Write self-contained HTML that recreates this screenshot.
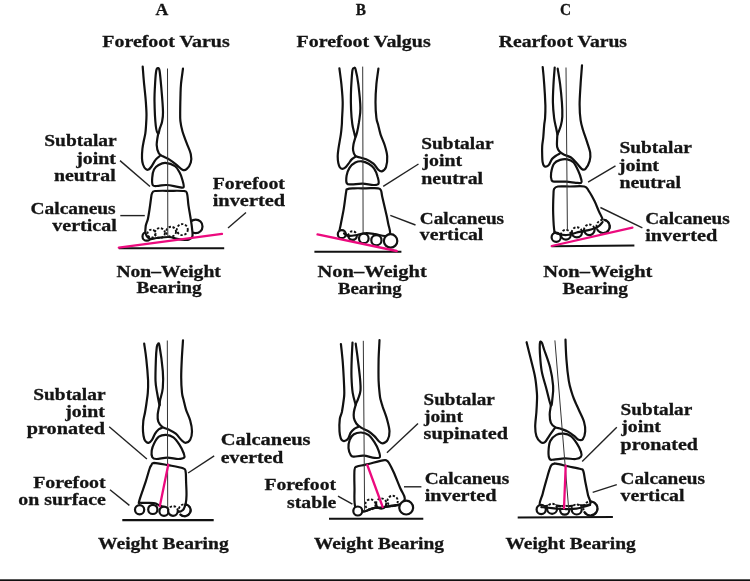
<!DOCTYPE html>
<html><head><meta charset="utf-8">
<style>
html,body{margin:0;padding:0;background:#fff;}
body{width:750px;height:581px;overflow:hidden;position:relative;}
svg{position:absolute;left:0;top:0;will-change:transform;}
.t{font-family:"Liberation Serif",serif;font-weight:bold;font-size:17.2px;fill:#141414;stroke:#141414;stroke-width:0.3;}
.b{fill:none;stroke:#111;stroke-width:2.2;stroke-linecap:round;stroke-linejoin:round;}
.wf{fill:#fff;stroke:none;}
.w{fill:#fff;stroke:#111;stroke-width:2.2;stroke-linecap:round;stroke-linejoin:round;}
.c{fill:none;stroke:#333;stroke-width:1;}
.d{fill:none;stroke:#111;stroke-width:1.9;stroke-dasharray:2.3 1.7;}
.p{stroke:#ec0a7e;stroke-width:2.3;stroke-linecap:round;fill:none;}
.g{stroke:#111;stroke-width:2.1;}
.l{stroke:#222;stroke-width:1.4;}
</style></head><body>
<svg width="750" height="581" viewBox="0 0 750 581">
<rect x="0" y="579.3" width="750" height="1.7" fill="#111"/>
<!-- A1 -->
<g>
<circle class="w" cx="146.8" cy="236.4" r="4.3"/>
<circle class="w" cx="195.7" cy="226.4" r="6.8"/>
<path class="w" d="M152.0,193.5 C152.6,192.5 152.0,191.4 155.0,191.0 C158.0,190.6 165.2,190.8 170.0,190.8 C174.8,190.8 181.2,190.6 184.0,191.0 C186.8,191.4 186.2,191.1 187.0,193.5 C187.8,195.9 187.9,201.7 188.5,205.6 C189.1,209.5 189.8,213.3 190.4,217.0 C191.0,220.7 191.7,224.8 192.0,228.0 C192.3,231.2 192.9,234.6 192.4,236.5 C191.9,238.4 190.3,238.9 189.0,239.5 C187.7,240.1 186.7,240.0 184.7,239.9 C182.7,239.8 179.8,239.4 177.2,238.9 C174.5,238.4 172.2,237.2 168.8,237.0 C165.4,236.8 159.8,237.7 156.7,238.0 C153.6,238.3 151.9,239.6 150.1,238.9 C148.3,238.2 146.5,236.2 145.8,234.0 C145.1,231.8 145.3,228.6 145.7,226.0 C146.1,223.4 147.3,221.7 148.0,218.4 C148.7,215.1 149.5,209.6 150.0,206.0 C150.5,202.4 150.9,199.1 151.2,197.0 C151.5,194.9 151.4,194.5 152.0,193.5 Z"/>
<path class="b" d="M142.7,66.6 C142.9,68.9 143.3,74.9 143.8,80.7 C144.3,86.5 145.4,95.6 145.8,101.3 C146.2,107.0 146.5,110.9 146.5,115.0 C146.5,119.1 146.2,122.9 146.0,126.0 C145.8,129.1 145.7,131.1 145.3,133.6 C144.9,136.1 144.3,138.2 143.8,140.8 C143.3,143.4 142.7,146.1 142.4,149.0 C142.1,151.9 141.9,155.8 142.0,158.4 C142.1,161.0 142.4,162.8 143.0,164.5 C143.6,166.2 144.6,168.0 145.5,168.8 C146.4,169.7 147.5,170.0 148.5,169.6 C149.5,169.2 150.3,168.2 151.5,166.5 C152.7,164.8 154.3,161.3 155.7,159.6 C157.1,157.8 159.1,156.6 159.8,156.0"/>
<path class="b" d="M158.2,133.6 C157.5,133.2 156.4,131.4 155.8,126.0 C155.2,120.6 154.6,108.6 154.5,101.3 C154.4,94.0 154.9,87.1 155.2,82.0 C155.5,76.9 155.8,72.8 156.3,70.5 C156.8,68.2 157.4,68.1 158.0,68.2 C158.6,68.3 159.0,67.4 159.6,71.0 C160.2,74.6 160.9,83.2 161.5,90.0 C162.1,96.8 162.9,106.7 163.0,112.0 C163.1,117.3 162.5,119.3 162.0,122.0 C161.5,124.7 160.4,126.5 159.8,128.4 C159.2,130.3 158.9,134.0 158.2,133.6 Z"/>
<path class="b" d="M158.2,133.6 C157.9,135.5 156.6,141.7 156.7,145.0 C156.8,148.3 157.8,151.3 158.8,153.2 C159.8,155.1 161.2,155.3 162.9,156.3 C164.6,157.3 166.9,158.0 169.1,159.4 C171.3,160.8 174.1,162.9 176.3,164.6 C178.5,166.3 180.8,169.0 182.5,169.8 C184.2,170.6 185.2,170.4 186.6,169.2 C188.0,168.0 190.1,165.0 190.8,162.5 C191.5,160.0 191.5,157.5 190.8,154.2 C190.1,150.9 188.0,146.7 186.6,142.9 C185.2,139.1 183.5,135.1 182.5,131.5 C181.5,127.9 180.8,124.8 180.4,121.2 C180.0,117.6 180.2,114.4 180.2,110.0 C180.2,105.6 180.4,99.3 180.5,95.0 C180.6,90.7 180.6,88.4 181.0,84.0 C181.4,79.6 182.7,71.1 183.0,68.5"/>
<path class="b" d="M153.0,185.4 C151.9,184.1 152.0,180.5 152.2,177.8 C152.4,175.2 152.9,171.6 154.0,169.5 C155.1,167.4 156.7,166.1 158.6,165.0 C160.5,163.9 162.7,162.6 165.4,162.8 C168.1,163.0 172.7,164.6 175.0,166.2 C177.3,167.8 178.3,170.1 179.5,172.3 C180.7,174.5 181.5,176.7 182.2,179.2 C182.9,181.7 184.3,186.0 183.6,187.3 C182.9,188.6 180.6,187.2 177.8,186.8 C175.0,186.4 170.0,185.2 166.8,185.0 C163.6,184.8 160.9,185.7 158.6,185.8 C156.3,185.9 154.1,186.7 153.0,185.4 Z"/>
<circle class="d" cx="151.5" cy="233.6" r="4.0"/>
<circle class="d" cx="159.9" cy="233.1" r="5.0"/>
<circle class="d" cx="171.1" cy="231.7" r="4.9"/>
<circle class="d" cx="182.3" cy="229.6" r="5.5"/>
<line class="c" x1="167.5" y1="68.5" x2="167.8" y2="237.0"/>
<line class="g" x1="118.8" y1="248.3" x2="224.2" y2="248.3"/>
<line class="p" x1="118.8" y1="247.6" x2="222.0" y2="233.8"/>
<line class="l" x1="120.0" y1="160.6" x2="150.0" y2="186.5"/>
<line class="l" x1="120.3" y1="215.6" x2="144.8" y2="215.6"/>
<line class="l" x1="228.0" y1="228.0" x2="246.0" y2="212.5"/>
</g>

<!-- B1 -->
<g>
<path class="w" d="M347.3,189.2 C348.6,188.5 351.0,188.5 354.1,188.3 C357.2,188.2 362.0,188.3 366.0,188.3 C370.0,188.3 375.7,187.9 378.2,188.3 C380.7,188.7 380.3,189.1 381.0,190.5 C381.7,191.9 381.4,192.9 382.3,197.0 C383.2,201.1 385.5,210.6 386.5,215.1 C387.5,219.6 387.7,221.0 388.3,224.0 C388.9,227.0 390.5,231.2 390.0,233.2 C389.5,235.2 387.8,235.8 385.3,236.0 C382.8,236.2 378.3,234.6 375.0,234.1 C371.7,233.6 368.7,233.0 365.7,233.2 C362.7,233.3 359.8,234.6 357.0,235.0 C354.2,235.4 351.2,236.1 349.0,235.8 C346.8,235.6 345.5,234.3 344.0,233.5 C342.5,232.7 340.4,232.2 339.8,230.8 C339.2,229.4 340.1,228.4 340.7,224.8 C341.3,221.2 342.8,214.5 343.7,209.1 C344.6,203.7 345.5,195.5 346.1,192.2 C346.7,188.9 346.0,189.8 347.3,189.2 Z"/>
<path class="b" d="M339.4,68.4 C339.7,71.0 340.8,78.5 341.4,84.1 C341.9,89.7 342.6,96.2 342.7,102.2 C342.8,108.2 342.1,116.4 342.0,120.2 C341.9,124.0 342.0,122.6 341.8,125.0 C341.6,127.4 341.4,130.6 340.8,134.6 C340.2,138.6 338.9,145.5 338.4,149.1 C337.9,152.7 337.7,154.0 337.7,156.3 C337.7,158.6 337.9,161.2 338.3,163.0 C338.7,164.8 339.2,166.2 339.8,167.2 C340.4,168.2 341.2,168.8 342.2,168.8 C343.1,168.8 344.4,168.2 345.5,167.3 C346.6,166.4 347.6,164.9 348.6,163.6 C349.6,162.3 350.6,160.5 351.7,159.4 C352.8,158.3 354.7,157.2 355.3,156.8"/>
<path class="b" d="M355.5,137.0 C355.0,137.0 354.6,134.4 354.1,132.2 C353.6,130.0 352.8,127.7 352.3,124.0 C351.8,120.3 351.3,114.8 351.1,110.0 C350.9,105.2 350.8,100.0 350.9,95.0 C351.0,90.0 351.3,84.2 351.6,80.0 C351.9,75.8 352.1,72.0 352.5,70.0 C352.9,68.0 353.5,68.1 354.0,68.0 C354.5,67.9 354.9,66.8 355.6,69.5 C356.3,72.2 357.5,77.6 358.3,84.1 C359.1,90.5 360.3,101.8 360.4,108.2 C360.5,114.6 359.4,118.7 358.9,122.7 C358.3,126.7 357.7,129.8 357.1,132.2 C356.5,134.6 356.0,137.0 355.5,137.0 Z"/>
<path class="b" d="M355.5,137.0 C355.2,138.2 353.9,142.1 353.5,144.3 C353.1,146.5 352.8,148.4 353.1,150.3 C353.4,152.2 354.1,154.5 355.3,155.7 C356.5,156.9 358.3,156.9 360.1,157.5 C361.9,158.1 363.9,158.3 366.1,159.3 C368.3,160.3 371.4,161.9 373.4,163.6 C375.4,165.3 376.8,168.3 378.2,169.6 C379.6,170.9 380.5,171.8 381.8,171.4 C383.1,171.0 385.1,169.7 386.0,167.2 C386.9,164.7 387.4,159.9 387.2,156.3 C387.0,152.7 385.9,149.1 384.8,145.5 C383.7,141.9 381.7,138.0 380.6,134.6 C379.5,131.2 378.9,127.8 378.2,125.0 C377.5,122.2 376.8,121.6 376.4,117.8 C375.9,114.0 375.5,107.8 375.5,102.2 C375.5,96.6 375.9,89.7 376.4,84.1 C376.9,78.5 378.1,71.3 378.4,68.7"/>
<path class="b" d="M346.9,183.4 C346.0,181.9 346.2,178.2 346.6,175.6 C347.0,173.0 348.1,170.0 349.5,167.8 C350.9,165.6 353.2,163.6 355.3,162.5 C357.4,161.4 359.7,161.1 361.9,161.3 C364.1,161.5 366.6,162.6 368.6,163.8 C370.6,165.0 372.5,166.2 374.0,168.4 C375.5,170.6 376.9,174.2 377.6,176.8 C378.4,179.4 379.2,182.4 378.5,183.8 C377.8,185.2 376.1,185.0 373.4,185.0 C370.7,185.0 366.1,183.7 362.5,183.6 C358.9,183.5 354.3,184.4 351.7,184.4 C349.1,184.4 347.8,184.9 346.9,183.4 Z"/>
<circle class="w" cx="341.8" cy="234.2" r="4.0"/>
<circle class="wf" cx="352.6" cy="235.6" r="4.3"/><path class="d" d="M348.3,235.6 A4.3,4.3 0 0 1 356.9,235.6"/><path class="b" d="M356.9,235.6 A4.3,4.3 0 0 1 348.3,235.6"/>
<path class="b" d="M344.0,233.5 C344.8,233.9 346.8,235.6 349.0,235.8 C351.2,236.1 355.7,235.1 357.0,235.0"/>
<circle class="w" cx="363.8" cy="238.4" r="4.8"/>
<circle class="w" cx="376.4" cy="240.2" r="5.1"/>
<circle class="w" cx="390.6" cy="240.9" r="6.7"/>
<line class="c" x1="362.7" y1="66.6" x2="363.1" y2="233.0"/>
<line class="g" x1="314.4" y1="251.8" x2="401.4" y2="251.8"/>
<line class="p" x1="317.5" y1="234.4" x2="396.7" y2="251.0"/>
<line class="l" x1="383.2" y1="186.3" x2="418.5" y2="164.0"/>
<line class="l" x1="390.3" y1="215.3" x2="415.5" y2="225.0"/>
</g>

<!-- C1 -->
<g>
<path class="w" d="M554.2,188.7 C554.9,187.5 555.3,186.9 557.9,186.5 C560.5,186.1 565.6,186.5 570.0,186.5 C574.4,186.5 581.2,185.8 584.3,186.5 C587.4,187.2 587.0,188.5 588.7,190.9 C590.4,193.3 592.8,197.7 594.5,201.1 C596.2,204.5 597.5,208.2 598.9,211.4 C600.2,214.6 602.8,217.6 602.6,220.2 C602.4,222.8 600.1,225.4 597.5,227.1 C594.9,228.8 590.8,229.5 587.2,230.4 C583.6,231.3 579.4,231.9 576.0,232.7 C572.6,233.5 569.8,234.8 566.7,235.0 C563.6,235.2 559.3,234.2 557.3,233.7 C555.3,233.2 555.2,235.0 554.5,231.8 C553.8,228.6 553.4,220.6 553.2,214.3 C553.0,208.0 553.3,198.1 553.5,193.8 C553.7,189.5 553.5,189.9 554.2,188.7 Z"/>
<path class="b" d="M542.7,67.0 C543.0,69.8 543.8,77.6 544.2,84.1 C544.7,90.6 545.2,100.2 545.4,105.8 C545.5,111.4 545.3,114.6 545.1,117.8 C544.9,121.0 544.5,121.8 544.2,125.0 C543.9,128.2 543.6,133.5 543.3,137.0 C543.0,140.5 542.4,142.8 542.2,146.0 C542.0,149.2 542.1,153.3 542.2,156.0 C542.3,158.7 542.3,160.4 542.6,162.0 C542.9,163.6 543.3,164.8 543.8,165.6 C544.3,166.4 544.9,166.8 545.8,166.7 C546.6,166.6 547.9,166.1 548.9,164.8 C549.9,163.5 550.9,160.5 552.0,159.0 C553.1,157.5 554.3,156.9 555.6,156.0 C556.9,155.1 559.1,154.0 559.8,153.6"/>
<path class="b" d="M554.7,67.5 C554.5,70.3 553.8,78.3 553.5,84.1 C553.2,89.9 552.8,96.6 552.9,102.2 C553.0,107.8 553.6,113.7 554.1,117.8 C554.6,121.9 555.3,124.2 555.9,127.0 C556.5,129.8 557.2,133.3 557.5,134.6"/>
<path class="b" d="M557.7,68.7 C558.1,71.3 559.4,78.5 560.1,84.1 C560.8,89.7 561.5,96.8 561.9,102.2 C562.3,107.6 562.4,112.8 562.3,116.6 C562.1,120.4 561.6,122.6 561.0,125.0 C560.4,127.4 559.5,129.4 558.9,131.0 C558.3,132.6 557.8,133.2 557.5,134.6 C557.2,136.0 557.2,137.5 557.1,139.5 C557.0,141.5 556.7,144.7 557.1,146.7 C557.5,148.7 558.4,150.2 559.5,151.5 C560.6,152.8 561.8,153.5 563.7,154.5 C565.6,155.5 568.8,156.0 571.0,157.5 C573.2,159.0 575.2,161.7 577.0,163.6 C578.8,165.5 580.4,168.1 581.8,169.0 C583.2,169.9 584.1,170.3 585.4,169.0 C586.7,167.7 588.8,163.8 589.6,161.1 C590.4,158.4 590.7,156.1 590.2,152.7 C589.7,149.3 587.8,144.5 586.6,140.7 C585.4,136.9 584.0,133.4 583.0,130.0 C582.0,126.6 581.2,124.4 580.6,120.2 C580.0,116.0 579.6,110.6 579.6,104.6 C579.6,98.6 580.2,90.6 580.6,84.1 C581.0,77.6 581.8,68.5 582.0,65.4"/>
<path class="b" d="M551.7,180.4 C551.0,179.0 550.7,176.0 551.1,173.2 C551.5,170.4 552.6,165.8 554.1,163.6 C555.6,161.4 557.9,160.6 560.1,159.9 C562.3,159.2 565.1,158.9 567.3,159.3 C569.5,159.7 571.6,160.4 573.4,162.3 C575.2,164.2 576.9,168.0 578.2,170.8 C579.5,173.6 580.7,177.2 581.2,179.2 C581.7,181.2 582.1,182.2 581.2,182.8 C580.3,183.4 578.3,183.0 575.8,182.8 C573.3,182.6 569.5,181.8 566.1,181.6 C562.7,181.4 557.7,181.8 555.3,181.6 C552.9,181.4 552.4,181.8 551.7,180.4 Z"/>
<circle class="w" cx="556.2" cy="237.2" r="4.6"/>
<circle class="wf" cx="565.9" cy="234.8" r="4.9"/><path class="d" d="M561.0,234.8 A4.9,4.9 0 0 1 570.8,234.8"/><path class="b" d="M570.8,234.8 A4.9,4.9 0 0 1 561.0,234.8"/>
<circle class="wf" cx="576.9" cy="232.3" r="5.1"/><path class="d" d="M571.8,232.3 A5.1,5.1 0 0 1 582.0,232.3"/><path class="b" d="M582.0,232.3 A5.1,5.1 0 0 1 571.8,232.3"/>
<circle class="wf" cx="589.3" cy="229.8" r="5.3"/><path class="d" d="M584.0,229.8 A5.3,5.3 0 0 1 594.6,229.8"/><path class="b" d="M594.6,229.8 A5.3,5.3 0 0 1 584.0,229.8"/>
<circle class="wf" cx="603.1" cy="226.4" r="6.6"/>
<circle class="d" cx="603.1" cy="226.4" r="6.6"/>
<path class="b" d="M604.2,219.9 A6.6,6.6 0 1 1 598.0,230.6"/>
<path class="b" d="M554.5,232.0 C555.0,232.3 555.3,233.2 557.3,233.7 C559.3,234.2 563.6,235.2 566.7,235.0 C569.8,234.8 572.6,233.5 576.0,232.7 C579.4,231.9 583.6,231.3 587.2,230.4 C590.8,229.5 594.9,228.5 597.5,227.1 C600.1,225.7 601.8,222.8 602.6,222.0"/>
<line class="c" x1="566.0" y1="67.5" x2="567.4" y2="230.5"/>
<line class="g" x1="551.7" y1="246.2" x2="634.4" y2="245.5"/>
<line class="p" x1="551.7" y1="246.0" x2="632.4" y2="227.6"/>
<line class="l" x1="588.1" y1="182.2" x2="615.5" y2="165.9"/>
<line class="l" x1="600.4" y1="207.5" x2="642.4" y2="227.9"/>
</g>

<!-- D1 -->
<g>
<path class="w" d="M151.2,465.5 C151.9,464.5 151.2,462.9 154.0,462.8 C156.8,462.8 163.5,464.3 168.3,465.2 C173.1,466.1 180.1,467.2 183.0,468.3 C185.9,469.4 185.1,469.3 185.6,471.5 C186.1,473.7 185.9,477.8 186.1,481.7 C186.2,485.6 186.6,491.4 186.5,495.0 C186.4,498.6 186.4,500.5 185.8,503.0 C185.2,505.5 184.5,508.5 183.0,510.0 C181.5,511.5 179.0,512.1 177.0,512.0 C175.0,511.9 173.2,510.3 171.0,509.5 C168.8,508.7 165.9,507.7 164.0,507.0 C162.1,506.3 161.1,506.2 159.4,505.5 C157.7,504.8 156.9,503.4 153.8,503.0 C150.7,502.6 143.4,503.1 141.0,502.8 C138.6,502.5 138.4,504.5 139.2,501.0 C140.0,497.5 144.0,487.0 145.7,481.7 C147.4,476.4 148.6,471.7 149.5,469.0 C150.4,466.3 150.4,466.5 151.2,465.5 Z"/>
<path class="b" d="M144.2,343.7 C144.5,346.3 145.7,352.9 146.3,359.1 C147.0,365.3 147.8,375.2 148.1,380.8 C148.3,386.4 148.1,389.1 147.8,392.8 C147.5,396.5 146.9,399.8 146.5,403.0 C146.1,406.2 145.6,409.0 145.1,412.0 C144.6,415.0 143.7,417.8 143.3,421.0 C143.0,424.2 142.8,428.4 143.0,431.4 C143.2,434.4 143.7,437.4 144.3,439.2 C144.9,441.0 145.8,441.6 146.5,442.2 C147.2,442.8 147.9,443.2 148.8,442.8 C149.7,442.4 150.9,441.3 152.0,439.8 C153.1,438.3 154.0,435.4 155.1,433.6 C156.2,431.9 157.7,430.3 158.8,429.3 C159.9,428.3 161.4,428.1 161.9,427.8"/>
<path class="b" d="M159.5,404.8 C159.0,403.6 157.8,396.8 157.1,392.8 C156.4,388.8 155.7,386.4 155.5,380.8 C155.3,375.2 155.7,364.7 155.9,359.1 C156.1,353.5 156.5,349.5 156.8,347.0 C157.2,344.5 157.6,344.2 158.0,344.0 C158.4,343.8 158.7,341.5 159.5,346.0 C160.3,350.5 162.2,364.1 162.8,371.1 C163.4,378.1 163.2,383.2 162.8,388.0 C162.4,392.8 160.7,397.3 160.1,400.1 C159.5,402.9 160.0,406.0 159.5,404.8 Z"/>
<path class="b" d="M159.5,404.8 C159.2,406.4 157.9,411.7 157.7,414.5 C157.5,417.3 157.5,419.6 158.3,421.7 C159.1,423.8 160.8,425.8 162.5,427.1 C164.2,428.4 166.4,428.4 168.6,429.5 C170.8,430.6 173.7,432.0 175.8,433.7 C177.9,435.4 179.6,438.3 181.2,439.8 C182.8,441.3 183.9,442.8 185.4,442.8 C186.9,442.8 189.1,441.7 190.2,439.8 C191.3,437.9 192.0,434.5 192.0,431.3 C192.0,428.1 191.2,424.1 190.2,420.5 C189.2,416.9 187.1,413.0 186.0,409.6 C184.9,406.2 184.3,402.8 183.6,400.0 C182.9,397.2 182.4,396.6 182.0,392.8 C181.6,389.0 181.2,382.8 181.2,377.2 C181.2,371.6 181.5,365.2 181.8,359.1 C182.1,353.0 182.8,343.5 183.0,340.4"/>
<path class="b" d="M152.3,457.2 C151.5,455.8 151.4,452.9 151.7,450.6 C152.0,448.3 152.9,445.7 154.1,443.4 C155.3,441.1 156.9,438.1 158.9,436.7 C160.9,435.3 163.7,434.8 166.1,434.9 C168.5,435.0 171.2,435.7 173.4,437.3 C175.6,438.9 177.7,442.0 179.4,444.6 C181.1,447.2 182.8,450.8 183.6,453.0 C184.4,455.2 185.1,456.6 184.2,457.6 C183.3,458.6 181.0,459.0 178.2,459.0 C175.4,459.0 170.9,457.6 167.3,457.6 C163.7,457.6 159.0,459.1 156.5,459.0 C154.0,458.9 153.1,458.6 152.3,457.2 Z"/>
<circle class="w" cx="139.6" cy="509.8" r="4.6"/>
<circle class="w" cx="152.8" cy="509.4" r="4.6"/>
<circle class="w" cx="164.0" cy="511.2" r="4.6"/>
<circle class="wf" cx="173.0" cy="511.0" r="4.8"/><path class="d" d="M168.2,511.0 A4.8,4.8 0 0 1 177.8,511.0"/><path class="b" d="M177.8,511.0 A4.8,4.8 0 0 1 168.2,511.0"/>
<circle class="d" cx="184.6" cy="510.2" r="6.0"/>
<path class="b" d="M185.5,504.3 A6,6 0 1 1 180.5,514.6"/>
<line class="c" x1="167.3" y1="340.5" x2="167.7" y2="507.0"/>
<line class="g" x1="122.3" y1="520.1" x2="213.7" y2="520.1"/>
<line class="p" x1="168.3" y1="464.6" x2="159.8" y2="506.2"/>
<line class="l" x1="109.2" y1="426.8" x2="146.9" y2="459.0"/>
<line class="l" x1="110.0" y1="489.8" x2="129.4" y2="505.4"/>
<line class="l" x1="188.1" y1="473.0" x2="214.2" y2="455.9"/>
</g>

<!-- E1 -->
<g>
<path class="w" d="M354.5,470.0 C354.9,466.4 355.1,467.4 357.0,466.5 C358.9,465.6 361.4,465.6 365.7,464.6 C370.0,463.6 379.5,461.0 383.0,460.3 C386.5,459.6 385.5,460.1 386.5,460.5 C387.5,460.9 387.8,461.0 389.0,463.0 C390.2,465.0 391.8,468.1 393.7,472.3 C395.6,476.5 398.4,484.0 400.3,488.3 C402.2,492.6 404.8,495.7 404.8,498.4 C404.8,501.1 402.3,503.2 400.1,504.5 C397.9,505.8 394.7,505.4 391.7,505.9 C388.7,506.4 385.4,506.9 382.3,507.3 C379.2,507.7 376.1,507.5 373.0,508.2 C369.9,508.9 366.6,511.7 363.7,511.5 C360.8,511.3 356.8,510.7 355.3,506.8 C353.8,502.9 354.6,494.4 354.5,488.3 C354.4,482.2 354.1,473.6 354.5,470.0 Z"/>
<path class="b" d="M340.9,344.0 C341.2,346.5 342.0,353.6 342.5,359.1 C343.0,364.6 343.4,371.6 343.7,377.2 C344.0,382.8 344.3,389.0 344.3,392.8 C344.3,396.6 344.1,396.8 343.7,400.0 C343.3,403.2 342.5,408.8 341.9,412.0 C341.2,415.2 340.2,415.8 339.8,419.0 C339.4,422.2 339.3,428.2 339.5,431.4 C339.7,434.6 340.3,436.9 340.8,438.4 C341.3,439.9 341.9,440.1 342.5,440.5 C343.1,440.9 343.6,441.3 344.5,441.0 C345.4,440.7 347.1,440.0 348.1,438.6 C349.1,437.2 349.7,434.2 350.7,432.6 C351.7,431.0 353.0,429.8 354.3,428.8 C355.6,427.8 357.7,427.1 358.4,426.7"/>
<path class="b" d="M352.5,342.5 C352.4,345.3 351.9,353.3 351.7,359.1 C351.5,364.9 351.3,371.6 351.5,377.2 C351.7,382.8 352.0,388.2 352.7,392.8 C353.4,397.4 355.2,402.8 355.7,404.8"/>
<path class="b" d="M355.7,343.7 C356.0,345.9 356.8,351.1 357.5,356.7 C358.2,362.3 359.4,371.6 359.9,377.2 C360.4,382.8 360.8,386.8 360.5,390.4 C360.2,394.0 358.9,396.5 358.1,398.9 C357.3,401.3 356.4,402.6 355.7,404.8 C355.0,407.0 354.2,409.8 353.9,412.0 C353.6,414.2 353.5,416.2 353.9,418.1 C354.3,420.0 355.1,421.9 356.3,423.5 C357.5,425.1 359.1,426.4 361.1,427.7 C363.1,429.0 366.2,429.9 368.4,431.3 C370.6,432.7 372.7,434.5 374.4,436.1 C376.1,437.7 377.2,439.8 378.6,441.0 C380.0,442.2 381.3,443.6 382.8,443.4 C384.3,443.2 386.6,441.8 387.7,439.8 C388.8,437.8 389.6,434.7 389.5,431.3 C389.4,427.9 388.1,423.3 387.0,419.3 C385.9,415.3 383.9,410.4 382.8,407.2 C381.8,404.0 381.2,402.0 380.7,400.0 C380.2,398.0 380.1,398.4 379.8,395.2 C379.5,392.0 378.8,386.8 378.6,380.8 C378.4,374.8 378.5,365.9 378.6,359.1 C378.8,352.3 379.4,343.3 379.5,340.1"/>
<path class="b" d="M350.9,455.4 C350.0,454.0 348.7,450.8 348.5,448.2 C348.3,445.6 348.8,442.1 349.7,439.8 C350.6,437.5 352.0,435.5 353.9,434.3 C355.8,433.1 358.7,432.4 361.1,432.5 C363.5,432.6 366.2,433.3 368.4,434.9 C370.6,436.5 372.7,439.6 374.4,442.2 C376.1,444.8 377.7,448.1 378.6,450.6 C379.5,453.1 380.5,456.0 379.8,457.2 C379.1,458.4 377.1,458.1 374.4,457.8 C371.7,457.6 367.0,455.9 363.6,455.7 C360.2,455.5 356.0,456.7 353.9,456.6 C351.8,456.6 351.8,456.8 350.9,455.4 Z"/>
<circle class="d" cx="370.4" cy="504.5" r="5.1"/>
<circle class="wf" cx="381.2" cy="503.5" r="5.1"/><path class="d" d="M376.1,503.5 A5.1,5.1 0 0 1 386.3,503.5"/><path class="b" d="M386.3,503.5 A5.1,5.1 0 0 1 376.1,503.5"/>
<circle class="d" cx="392.6" cy="501.0" r="5.2"/>
<path class="b" d="M355.3,506.8 C356.7,507.6 360.8,511.3 363.7,511.5 C366.6,511.7 369.9,508.9 373.0,508.2 C376.1,507.5 379.2,507.7 382.3,507.3 C385.4,506.9 388.7,506.4 391.7,505.9 C394.7,505.4 398.7,504.7 400.1,504.5"/>
<circle class="w" cx="357.8" cy="511.0" r="4.5"/>
<circle class="w" cx="406.2" cy="507.6" r="6.9"/>
<line class="c" x1="363.3" y1="340.8" x2="364.6" y2="511.0"/>
<line class="g" x1="329.0" y1="518.8" x2="423.3" y2="518.8"/>
<line class="p" x1="367.3" y1="465.0" x2="382.7" y2="507.0"/>
<line class="l" x1="386.9" y1="452.8" x2="418.0" y2="423.4"/>
<line class="l" x1="404.0" y1="486.8" x2="421.4" y2="486.8"/>
<line class="l" x1="338.0" y1="496.2" x2="352.4" y2="504.2"/>
</g>

<!-- F1 -->
<g>
<path class="w" d="M550.7,466.3 C551.9,463.8 553.1,464.1 554.0,463.7 C554.9,463.3 553.7,463.3 556.0,463.7 C558.3,464.1 563.9,465.4 568.0,466.3 C572.1,467.2 578.2,468.2 580.7,469.0 C583.2,469.8 582.5,468.9 583.3,471.0 C584.1,473.1 584.5,477.7 585.3,481.7 C586.1,485.7 587.2,491.2 588.0,495.0 C588.8,498.8 592.0,502.6 590.0,504.3 C588.0,506.1 580.3,505.1 576.0,505.5 C571.7,505.9 568.3,506.6 564.4,506.5 C560.5,506.4 556.8,505.3 552.7,505.2 C548.6,505.1 541.7,507.6 540.0,505.7 C538.3,503.8 541.6,498.1 542.7,493.7 C543.8,489.2 545.4,483.6 546.7,479.0 C548.0,474.4 549.5,468.9 550.7,466.3 Z"/>
<path class="b" d="M526.6,342.2 C527.3,345.0 529.4,353.3 530.8,359.1 C532.2,364.9 534.1,371.6 535.1,377.2 C536.1,382.8 536.6,389.0 536.9,392.8 C537.2,396.6 537.1,396.8 537.0,400.0 C536.9,403.2 536.7,407.6 536.4,412.0 C536.1,416.4 535.2,422.5 535.2,426.5 C535.2,430.5 535.5,433.5 536.4,436.1 C537.3,438.7 539.3,441.2 540.7,442.2 C542.1,443.2 543.5,443.2 544.9,442.2 C546.3,441.2 547.7,438.1 549.1,436.1 C550.5,434.1 552.3,431.5 553.3,430.1 C554.3,428.7 554.8,428.1 555.1,427.7"/>
<path class="b" d="M550.9,405.4 C549.9,404.0 548.0,394.9 546.5,389.2 C545.0,383.5 542.8,377.1 541.7,371.1 C540.6,365.1 540.2,357.6 539.9,353.1 C539.6,348.6 539.7,345.9 539.8,344.0 C539.9,342.1 540.1,341.8 540.5,341.6 C540.9,341.4 541.4,341.7 542.0,343.0 C542.6,344.3 542.8,345.4 544.1,349.5 C545.5,353.6 548.6,361.5 550.1,367.5 C551.6,373.5 552.7,380.6 553.1,385.6 C553.5,390.6 552.9,394.4 552.5,397.7 C552.1,401.0 551.9,406.8 550.9,405.4 Z"/>
<path class="b" d="M550.9,405.4 C550.7,406.9 549.7,411.6 549.7,414.5 C549.7,417.4 550.0,420.8 550.9,422.9 C551.8,425.0 553.4,426.1 555.1,427.1 C556.8,428.1 558.9,428.1 561.1,428.9 C563.3,429.7 566.2,430.7 568.4,431.9 C570.6,433.1 572.7,434.8 574.4,436.1 C576.1,437.4 577.2,439.3 578.6,439.8 C580.0,440.3 581.7,440.6 582.8,439.2 C583.9,437.8 585.0,434.2 585.2,431.3 C585.4,428.4 585.0,425.1 584.0,421.7 C583.0,418.3 580.4,413.6 579.2,410.8 C578.0,408.0 577.4,406.8 576.6,405.0 C575.8,403.2 575.2,402.0 574.4,400.0 C573.6,398.0 572.7,396.0 571.8,392.8 C570.9,389.6 569.7,386.4 568.8,380.8 C567.9,375.2 566.9,366.0 566.4,359.1 C565.9,352.2 565.6,342.9 565.5,339.6"/>
<path class="b" d="M549.7,459.0 C548.8,457.7 548.4,454.8 548.5,451.8 C548.6,448.8 549.0,443.8 550.3,441.0 C551.6,438.2 554.1,436.1 556.3,434.9 C558.5,433.7 561.2,433.5 563.6,433.7 C566.0,433.9 568.6,434.5 570.8,436.1 C573.0,437.7 575.1,440.8 576.8,443.4 C578.5,446.0 580.3,449.6 581.0,451.8 C581.7,454.0 581.9,455.4 581.0,456.6 C580.1,457.8 578.3,458.7 575.6,459.0 C572.9,459.3 568.4,458.3 564.8,458.4 C561.2,458.5 556.4,459.5 553.9,459.6 C551.4,459.7 550.6,460.3 549.7,459.0 Z"/>
<circle class="w" cx="541.2" cy="509.5" r="4.6"/>
<circle class="wf" cx="552.1" cy="508.8" r="5.0"/><path class="d" d="M547.1,508.8 A5.0,5.0 0 0 1 557.1,508.8"/><path class="b" d="M557.1,508.8 A5.0,5.0 0 0 1 547.1,508.8"/>
<circle class="wf" cx="564.7" cy="510.1" r="4.6"/><path class="d" d="M560.1,510.1 A4.6,4.6 0 0 1 569.3,510.1"/><path class="b" d="M569.3,510.1 A4.6,4.6 0 0 1 560.1,510.1"/>
<circle class="wf" cx="576.7" cy="509.5" r="5.0"/><path class="d" d="M571.7,509.5 A5.0,5.0 0 0 1 581.7,509.5"/><path class="b" d="M581.7,509.5 A5.0,5.0 0 0 1 571.7,509.5"/>
<circle class="d" cx="590.4" cy="508.5" r="7.0"/>
<path class="b" d="M590.4,501.5 A7,7 0 1 1 584.5,512.2"/>
<path class="b" d="M541.4,507.1 C543.2,507.3 548.1,507.9 552.0,508.2 C555.9,508.5 560.4,508.9 564.5,509.0 C568.6,509.1 572.2,509.3 576.5,508.6 C580.8,507.9 587.8,505.6 590.0,505.0"/>
<line class="c" x1="554.9" y1="340.4" x2="568.7" y2="509.0"/>
<line class="g" x1="517.7" y1="517.5" x2="612.9" y2="517.0"/>
<line class="p" x1="565.7" y1="465.7" x2="564.0" y2="508.3"/>
<line class="l" x1="582.2" y1="461.4" x2="616.8" y2="427.2"/>
<line class="l" x1="592.7" y1="492.3" x2="616.8" y2="484.6"/>
</g>

<text class="t" x="155.40" y="15.40" textLength="12.80" lengthAdjust="spacingAndGlyphs">A</text>
<text class="t" x="355.70" y="15.40" textLength="10.23" lengthAdjust="spacingAndGlyphs">B</text>
<text class="t" x="560.00" y="15.40" textLength="11.08" lengthAdjust="spacingAndGlyphs">C</text>
<text class="t" x="102.30" y="46.80" textLength="127.36" lengthAdjust="spacingAndGlyphs">Forefoot Varus</text>
<text class="t" x="296.60" y="46.80" textLength="134.07" lengthAdjust="spacingAndGlyphs">Forefoot Valgus</text>
<text class="t" x="498.80" y="46.80" textLength="128.21" lengthAdjust="spacingAndGlyphs">Rearfoot Varus</text>
<text class="t" x="44.30" y="146.30" textLength="72.40" lengthAdjust="spacingAndGlyphs">Subtalar</text>
<text class="t" x="76.16" y="163.70" textLength="39.82" lengthAdjust="spacingAndGlyphs">joint</text>
<text class="t" x="54.00" y="181.00" textLength="61.69" lengthAdjust="spacingAndGlyphs">neutral</text>
<text class="t" x="30.60" y="213.70" textLength="85.08" lengthAdjust="spacingAndGlyphs">Calcaneus</text>
<text class="t" x="52.30" y="231.30" textLength="64.42" lengthAdjust="spacingAndGlyphs">vertical</text>
<text class="t" x="212.70" y="188.70" textLength="72.24" lengthAdjust="spacingAndGlyphs">Forefoot</text>
<text class="t" x="212.70" y="206.30" textLength="72.43" lengthAdjust="spacingAndGlyphs">inverted</text>
<text class="t" x="116.40" y="276.60" textLength="104.44" lengthAdjust="spacingAndGlyphs">Non–Weight</text>
<text class="t" x="136.40" y="293.40" textLength="65.26" lengthAdjust="spacingAndGlyphs">Bearing</text>
<text class="t" x="421.30" y="148.70" textLength="72.20" lengthAdjust="spacingAndGlyphs">Subtalar</text>
<text class="t" x="422.45" y="166.30" textLength="39.63" lengthAdjust="spacingAndGlyphs">joint</text>
<text class="t" x="421.30" y="183.50" textLength="61.79" lengthAdjust="spacingAndGlyphs">neutral</text>
<text class="t" x="419.80" y="223.50" textLength="84.29" lengthAdjust="spacingAndGlyphs">Calcaneus</text>
<text class="t" x="419.80" y="240.00" textLength="63.41" lengthAdjust="spacingAndGlyphs">vertical</text>
<text class="t" x="317.60" y="276.60" textLength="109.11" lengthAdjust="spacingAndGlyphs">Non–Weight</text>
<text class="t" x="338.00" y="293.90" textLength="63.58" lengthAdjust="spacingAndGlyphs">Bearing</text>
<text class="t" x="619.40" y="152.80" textLength="72.50" lengthAdjust="spacingAndGlyphs">Subtalar</text>
<text class="t" x="618.87" y="170.80" textLength="40.20" lengthAdjust="spacingAndGlyphs">joint</text>
<text class="t" x="619.40" y="188.00" textLength="61.59" lengthAdjust="spacingAndGlyphs">neutral</text>
<text class="t" x="645.20" y="224.00" textLength="84.69" lengthAdjust="spacingAndGlyphs">Calcaneus</text>
<text class="t" x="645.20" y="241.30" textLength="72.13" lengthAdjust="spacingAndGlyphs">inverted</text>
<text class="t" x="543.30" y="277.00" textLength="109.11" lengthAdjust="spacingAndGlyphs">Non–Weight</text>
<text class="t" x="562.50" y="294.20" textLength="65.46" lengthAdjust="spacingAndGlyphs">Bearing</text>
<text class="t" x="33.30" y="399.80" textLength="72.20" lengthAdjust="spacingAndGlyphs">Subtalar</text>
<text class="t" x="65.15" y="417.20" textLength="39.63" lengthAdjust="spacingAndGlyphs">joint</text>
<text class="t" x="26.70" y="434.00" textLength="78.27" lengthAdjust="spacingAndGlyphs">pronated</text>
<text class="t" x="33.20" y="487.70" textLength="72.44" lengthAdjust="spacingAndGlyphs">Forefoot</text>
<text class="t" x="18.30" y="504.70" textLength="87.59" lengthAdjust="spacingAndGlyphs">on surface</text>
<text class="t" x="220.80" y="444.60" textLength="89.79" lengthAdjust="spacingAndGlyphs">Calcaneus</text>
<text class="t" x="220.80" y="462.50" textLength="62.42" lengthAdjust="spacingAndGlyphs">everted</text>
<text class="t" x="98.10" y="548.50" textLength="130.54" lengthAdjust="spacingAndGlyphs">Weight Bearing</text>
<text class="t" x="423.60" y="405.00" textLength="71.20" lengthAdjust="spacingAndGlyphs">Subtalar</text>
<text class="t" x="423.93" y="422.10" textLength="38.96" lengthAdjust="spacingAndGlyphs">joint</text>
<text class="t" x="423.60" y="439.40" textLength="84.40" lengthAdjust="spacingAndGlyphs">supinated</text>
<text class="t" x="424.70" y="484.00" textLength="84.69" lengthAdjust="spacingAndGlyphs">Calcaneus</text>
<text class="t" x="424.70" y="501.30" textLength="71.83" lengthAdjust="spacingAndGlyphs">inverted</text>
<text class="t" x="264.40" y="490.30" textLength="71.64" lengthAdjust="spacingAndGlyphs">Forefoot</text>
<text class="t" x="287.10" y="507.90" textLength="49.26" lengthAdjust="spacingAndGlyphs">stable</text>
<text class="t" x="313.90" y="548.50" textLength="130.04" lengthAdjust="spacingAndGlyphs">Weight Bearing</text>
<text class="t" x="620.60" y="415.20" textLength="71.60" lengthAdjust="spacingAndGlyphs">Subtalar</text>
<text class="t" x="621.15" y="432.30" textLength="39.63" lengthAdjust="spacingAndGlyphs">joint</text>
<text class="t" x="620.60" y="449.90" textLength="77.27" lengthAdjust="spacingAndGlyphs">pronated</text>
<text class="t" x="620.60" y="484.00" textLength="84.39" lengthAdjust="spacingAndGlyphs">Calcaneus</text>
<text class="t" x="620.60" y="500.50" textLength="63.81" lengthAdjust="spacingAndGlyphs">vertical</text>
<text class="t" x="505.40" y="548.50" textLength="130.34" lengthAdjust="spacingAndGlyphs">Weight Bearing</text>
</svg>
</body></html>
